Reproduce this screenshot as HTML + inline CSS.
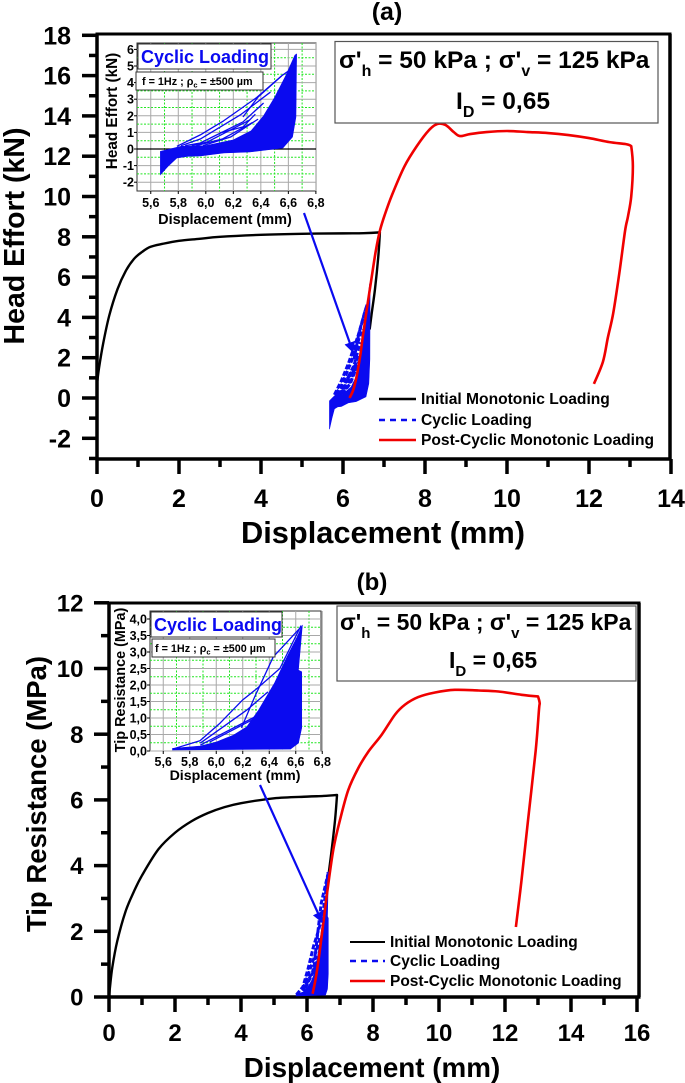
<!DOCTYPE html>
<html lang="en">
<head>
<meta charset="utf-8">
<title>Head effort and tip resistance vs displacement</title>
<style>
html,body{margin:0;padding:0;background:#fff;width:685px;height:1083px;overflow:hidden}
svg{display:block}
text{font-family:"Liberation Sans",sans-serif;font-weight:bold;fill:#000}
</style>
</head>
<body>
<svg id="figure" xmlns="http://www.w3.org/2000/svg" width="685" height="1083" viewBox="0 0 685 1083">
<rect width="685" height="1083" fill="#fff"/>
<defs>
<marker id="arrow-head" markerWidth="5" markerHeight="7" refX="4.5" refY="2.5" orient="auto"><path d="M0,0 L5,2.5 L0,5 Z" fill="#0a0af0"/></marker>
</defs>
<g id="panel-a"></g>
<g id="panel-b"></g>
<text x="387" y="20" font-size="25" text-anchor="middle">(a)</text>
<text x="372" y="590" font-size="24" text-anchor="middle">(b)</text>
<g>
<rect x="335" y="41.5" width="323" height="81.5" fill="#fff" stroke="#555" stroke-width="1.2"/>
<text x="339" y="68" font-size="24.5">σ'<tspan font-size="16" dy="8">h</tspan><tspan dy="-8"> = 50 kPa ; σ'</tspan><tspan font-size="16" dy="8">v</tspan><tspan dy="-8"> = 125 kPa</tspan></text>
<text x="456" y="109" font-size="24.5">I<tspan font-size="16" dy="8">D</tspan><tspan dy="-8"> = 0,65</tspan></text>
</g>
<g>
<rect x="337" y="606" width="299" height="75" fill="#fff" stroke="#555" stroke-width="1.2"/>
<text x="340" y="630" font-size="23">σ'<tspan font-size="15" dy="8">h</tspan><tspan dy="-8"> = 50 kPa ; σ'</tspan><tspan font-size="15" dy="8">v</tspan><tspan dy="-8"> = 125 kPa</tspan></text>
<text x="449" y="668" font-size="23">I<tspan font-size="15" dy="8">D</tspan><tspan dy="-8"> = 0,65</tspan></text>
</g>
</svg>
<script>
// ---------- Panel (a) data: displacement (mm) / head effort (kN) ----------
const aInitialX = [0,0.05,0.15,0.3,0.5,0.7,0.9,1.1,1.3,1.6,2,2.5,3,4,5,6,6.5,6.9,6.86,6.78,6.7,6.65];
const aInitialY = [0.7,1.5,2.7,4.1,5.4,6.3,6.9,7.25,7.5,7.65,7.8,7.9,8,8.1,8.15,8.17,8.18,8.22,7,5.4,4.2,3.4];
const aPostX = [6.16,6.25,6.33,6.42,6.48,6.58,6.7,6.8,6.9,7.02,7.2,7.5,7.8,8.1,8.3,8.5,8.7,8.85,9.1,9.5,10,10.5,11,11.5,12,12.5,12.9,13.03,13.07,13.03,12.95,12.88,12.74,12.59,12.46,12.34,12.12];
const aPostY = [0,0.4,1.05,2.1,3,4.4,6,7.3,8.3,9.1,10.1,11.5,12.5,13.3,13.6,13.55,13.2,13,13.1,13.2,13.25,13.2,13.15,13.05,12.9,12.7,12.6,12.5,11.5,10,9,8.3,6.2,4.2,3,1.8,0.7];
const aCyclicLowerX = [5.67,5.73,5.79,5.87,5.96,6.13,6.32,6.56,6.63,6.655,6.66];
const aCyclicLowerY = [-1.55,-1,-0.54,-0.44,-0.42,-0.24,-0.18,0.06,0.72,1.93,5.72];
const aCyclicUpperX = [6.648,6.58,6.5,6.42,6.33,6.2,6,5.82,5.74,5.67];
const aCyclicUpperY = [5.66,4.4,3.1,2,1.1,0.55,0.2,0.16,0,-0.14];
const aLoop1X = [5.79,5.96,6.13,6.37,6.55,6.6];
const aLoop1Y = [0.16,0.85,1.7,3.1,4.4,4.7];
const aLoop2X = [5.82,5.96,6.25,6.47];
const aLoop2Y = [0.2,0.6,2.05,3.43];
const aLoop3X = [5.85,5.96,6.27,6.42];
const aLoop3Y = [0.2,0.36,1.63,2.77];
const aLoop4X = [5.9,6.01,6.32];
const aLoop4Y = [0.2,0.42,1.75];
const aLoop5X = [6.27,6.38,6.55];
const aLoop5Y = [1.93,3.13,4.4];
const aLoop6X = [6.1,6.27,6.36];
const aLoop6Y = [0.96,1.33,2.1];
const aLoop7X = [5.93,6.12,6.34];
const aLoop7Y = [0.2,0.6,1.6];
const aLoop8X = [5.98,6.18,6.38];
const aLoop8Y = [0.2,0.72,1.8];
const aXTicks = [0,2,4,6,8,10,12,14];
const aXMinor = [1,3,5,7,9,11,13];
const aYTicks = [-2,0,2,4,6,8,10,12,14,16,18];
const aYMinor = [-3,-1,1,3,5,7,9,11,13,15,17];
const aInsetXTicks = ['5,6','5,8','6,0','6,2','6,4','6,6','6,8'];
const aInsetXVals = [5.6,5.8,6,6.2,6.4,6.6,6.8];
const aInsetXMinor = [5.7,5.9,6.1,6.3,6.5,6.7];
const aInsetYVals = [-2,-1,0,1,2,3,4,5,6];
const aInsetYMinor = [-1.5,-0.5,0.5,1.5,2.5,3.5,4.5,5.5];

// ---------- Panel (b) data: displacement (mm) / tip resistance (MPa) ----------
const bInitialX = [0,0.03,0.1,0.25,0.5,0.75,1,1.5,2,2.5,3,3.5,4,5,6,6.5,6.91,6.85,6.75,6.65,6.58];
const bInitialY = [0,0.3,0.9,1.7,2.6,3.2,3.7,4.5,5,5.35,5.6,5.78,5.9,6.05,6.1,6.12,6.15,5.39,4.5,3.7,3.2];
const bPostX = [6.17,6.27,6.38,6.5,6.62,6.8,7,7.25,7.55,7.86,8.26,8.67,8.97,9.37,9.88,10.48,11.2,11.8,12.5,13,13.05,13.03,12.93,12.7,12.5,12.33];
const bPostY = [0.1,0.6,1.35,2.3,3.25,4.5,5.39,6.3,6.96,7.47,7.98,8.6,8.9,9.13,9.27,9.35,9.33,9.3,9.2,9.15,8.95,8.75,7.5,5.4,3.55,2.13];
const bCyclicLowerX = [5.67,6.56,6.62,6.645,6.645,6.62,6.65];
const bCyclicLowerY = [0.03,0.06,0.24,0.7,2.4,2.45,3.82];
const bCyclicUpperX = [6.61,6.54,6.44,6.32,6.23,6.13,6,5.88,5.67];
const bCyclicUpperY = [3.45,2.9,2.06,1.24,0.73,0.48,0.27,0.15,0.08];
const bLoop1X = [5.68,5.877,6.03,6.2,6.31,6.48];
const bLoop1Y = [0.07,0.31,0.85,1.55,1.9,2.5];
const bLoop2X = [6.19,6.29,6.43,6.64];
const bLoop2Y = [0.7,1.64,2.85,3.76];
const bLoop3X = [6.48,6.64];
const bLoop3Y = [2.5,3.8];
const bLoop4X = [5.88,6.23,6.39];
const bLoop4Y = [0.24,1.24,1.79];
const bLoop5X = [5.88,6.29,6.33];
const bLoop5Y = [0.18,1.03,1.24];
const bLoop6X = [5.95,6.27];
const bLoop6Y = [0.27,0.94];
const bXTicks = [0,2,4,6,8,10,12,14,16];
const bXMinor = [1,3,5,7,9,11,13,15];
const bYTicks = [0,2,4,6,8,10,12];
const bYMinor = [1,3,5,7,9,11];
const bInsetXTicks = ['5,6','5,8','6,0','6,2','6,4','6,6','6,8'];
const bInsetXVals = [5.6,5.8,6,6.2,6.4,6.6,6.8];
const bInsetXMinor = [5.7,5.9,6.1,6.3,6.5,6.7];
const bInsetYVals = [0,0.5,1,1.5,2,2.5,3,3.5,4];
const bInsetYLabels = ['0,0','0,5','1,0','1,5','2,0','2,5','3,0','3,5','4,0'];
const bInsetYMinor = [0.25,0.75,1.25,1.75,2.25,2.75,3.25,3.75];

const aLoops = [[aLoop1X,aLoop1Y],[aLoop2X,aLoop2Y],[aLoop3X,aLoop3Y],[aLoop4X,aLoop4Y],[aLoop5X,aLoop5Y],[aLoop6X,aLoop6Y],[aLoop7X,aLoop7Y],[aLoop8X,aLoop8Y]];
const bLoops = [[bLoop1X,bLoop1Y],[bLoop2X,bLoop2Y],[bLoop3X,bLoop3Y],[bLoop4X,bLoop4Y],[bLoop5X,bLoop5Y],[bLoop6X,bLoop6Y]];

const NS = 'http://www.w3.org/2000/svg';
const BLUE = '#0a0af0';

// Axis functions
const ax = v => 97 + 41 * v;
const ay = v => 398 - 20.15 * v;
const bx = v => 109 + 33 * v;
const by = v => 997 - 32.85 * v;
const aix = v => 137 + (v - 5.5) * 137.6;
const aiy = v => 149 - 16.6 * v;
const bix = v => 150 + (v - 5.5) * 132.5;
const biy = v => 751 - 33 * v;

function seg(parent, name, x1, y1, x2, y2, color, w, dash) {
  const el = document.createElementNS(NS, 'line');
  
  
  el.setAttribute('x1', x1);
  el.setAttribute('y1', y1);
  el.setAttribute('x2', x2);
  el.setAttribute('y2', y2);
  el.setAttribute('stroke', color);
  el.setAttribute('stroke-width', w);
  if (dash) el.setAttribute('stroke-dasharray', dash);
  parent.appendChild(el);
  return el;
}
function label(parent, name, x, y, str, size, anchor, fill) {
  const el = document.createElementNS(NS, 'text');
  
  
  el.setAttribute('x', x);
  el.setAttribute('y', y);
  el.setAttribute('font-size', size);
  el.setAttribute('text-anchor', anchor || 'middle');
  if (fill) el.style.fill = fill;
  el.textContent = str;
  parent.appendChild(el);
  return el;
}
function curve(parent, name, xs, ys, fx, fy, color, w, dash) {
  const el = document.createElementNS(NS, 'polyline');
  
  
  el.setAttribute('points', xs.map((v, i) => fx(v).toFixed(2) + ',' + fy(ys[i]).toFixed(2)).join(' '));
  el.setAttribute('fill', 'none');
  el.setAttribute('stroke', color);
  el.setAttribute('stroke-width', w);
  el.setAttribute('stroke-linejoin', 'round');
  if (dash) el.setAttribute('stroke-dasharray', dash);
  parent.appendChild(el);
  return el;
}
function smooth(parent, name, xs, ys, fx, fy, color, w) {
  const p = xs.map((v, i) => [fx(v), fy(ys[i])]);
  // Tangents: flattened at sharp corners so the spline does not overshoot
  const tan = p.map((q, i) => {
    const a = p[Math.max(i - 1, 0)], c = p[Math.min(i + 1, p.length - 1)];
    const d1x = q[0] - a[0], d1y = q[1] - a[1], d2x = c[0] - q[0], d2y = c[1] - q[1];
    const l = Math.hypot(d1x, d1y) * Math.hypot(d2x, d2y);
    if (l > 0 && (d1x * d2x + d1y * d2y) / l < 0.5) return [0, 0];
    return [(c[0] - a[0]) / 6, (c[1] - a[1]) / 6];
  });
  let d = 'M' + p[0][0].toFixed(2) + ',' + p[0][1].toFixed(2);
  for (let i = 0; i < p.length - 1; i++) {
    const b = p[i], c = p[i + 1];
    d += ' C' + (b[0] + tan[i][0]).toFixed(2) + ',' + (b[1] + tan[i][1]).toFixed(2) + ' ' +
      (c[0] - tan[i + 1][0]).toFixed(2) + ',' + (c[1] - tan[i + 1][1]).toFixed(2) + ' ' +
      c[0].toFixed(2) + ',' + c[1].toFixed(2);
  }
  const el = document.createElementNS(NS, 'path');
  
  
  el.setAttribute('d', d);
  el.setAttribute('fill', 'none');
  el.setAttribute('stroke', color);
  el.setAttribute('stroke-width', w);
  el.setAttribute('stroke-linejoin', 'round');
  parent.appendChild(el);
  return el;
}
function envelope(parent, name, lx, ly, ux, uy, fx, fy) {
  const el = document.createElementNS(NS, 'polygon');
  
  
  const xs = lx.concat(ux);
  const ys = ly.concat(uy);
  el.setAttribute('points', xs.map((v, i) => fx(v).toFixed(2) + ',' + fy(ys[i]).toFixed(2)).join(' '));
  el.setAttribute('fill', BLUE);
  el.setAttribute('stroke', BLUE);
  el.setAttribute('stroke-width', '0.6');
  parent.appendChild(el);
  return el;
}
function rectBox(parent, name, x, y, w, h, stroke, sw) {
  const el = document.createElementNS(NS, 'rect');
  
  
  el.setAttribute('x', x);
  el.setAttribute('y', y);
  el.setAttribute('width', w);
  el.setAttribute('height', h);
  el.setAttribute('fill', '#fff');
  el.setAttribute('stroke', stroke);
  el.setAttribute('stroke-width', sw);
  parent.appendChild(el);
  return el;
}
function mainAxes(g, o) {
  seg(g, 'frame-top', o.l - 1.5, o.t, o.r + 1.5, o.t, '#000', 3);
  seg(g, 'frame-right', o.r, o.t, o.r, o.b, '#000', 3.5);
  seg(g, 'frame-left', o.l, o.t, o.l, o.b, '#000', 3.5);
  seg(g, 'frame-bottom', o.l - 1.5, o.b, o.r + 1.5, o.b, '#000', 3.5);
  o.xt.forEach(v => {
    seg(g, 'x-major-tick', o.fx(v), o.b, o.fx(v), o.b + 15, '#000', 3.5);
    label(g, 'x-tick-label', o.fx(v), o.b + o.xlOff, String(v), o.tickSize);
  });
  o.xm.forEach(v => seg(g, 'x-minor-tick', o.fx(v), o.b, o.fx(v), o.b + 8, '#000', 3.5));
  o.yt.forEach(v => {
    seg(g, 'y-major-tick', o.l - 15, o.fy(v), o.l, o.fy(v), '#000', 3.5);
    label(g, 'y-tick-label', o.l - o.ylOff, o.fy(v) + o.tickSize * 0.36, String(v), o.tickSize, 'end');
  });
  o.ym.forEach(v => seg(g, 'y-minor-tick', o.l - 8, o.fy(v), o.l, o.fy(v), '#000', 3.5));
}
function insetAxes(g, o) {
  rectBox(g, 'inset-plot-area', o.l, o.t, o.r - o.l, o.b - o.t, '#333', 1);
  o.xMinor.forEach(v => seg(g, 'inset-x-minor-grid', o.fx(v), o.t, o.fx(v), o.b, '#22e622', 1, '2 1.5'));
  o.yMinor.forEach(v => seg(g, 'inset-y-minor-grid', o.l, o.fy(v), o.r, o.fy(v), '#22e622', 1, '2 1.5'));
  o.xVals.forEach(v => seg(g, 'inset-x-major-grid', o.fx(v), o.t, o.fx(v), o.b, '#a8a8a8', 1));
  o.yVals.forEach(v => seg(g, 'inset-y-major-grid', o.l, o.fy(v), o.r, o.fy(v), '#a8a8a8', 1));
  o.xVals.forEach((v, i) => {
    seg(g, 'inset-x-tick', o.fx(v), o.b, o.fx(v), o.b + 3, '#000', 1);
    label(g, 'inset-x-tick-label', o.fx(v), o.b + o.xlOff, o.xLabels[i], 12.5);
  });
  o.yVals.forEach((v, i) => {
    seg(g, 'inset-y-tick', o.l - 3, o.fy(v), o.l, o.fy(v), '#000', 1);
    label(g, 'inset-y-tick-label', o.l - 3, o.fy(v) + 4.5, o.yLabels[i], 12.5, 'end');
  });
}

// ============ Panel (a) ============
const pa = document.getElementById('panel-a');
mainAxes(pa, {l:97, r:670, t:34, b:459, fx:ax, fy:ay, xt:aXTicks, xm:aXMinor, yt:aYTicks, ym:aYMinor, xlOff:48, ylOff:26, tickSize:25});
label(pa, 'x-axis-title', 383, 543, 'Displacement (mm)', 30.8);
const aTitle = label(pa, 'y-axis-title', 0, 0, 'Head Effort (kN)', 28.5);
aTitle.setAttribute('transform', 'translate(24,236) rotate(-90)');
smooth(pa, 'initial-monotonic-curve', aInitialX, aInitialY, ax, ay, '#000', 2.4);
envelope(pa, 'cyclic-envelope', aCyclicLowerX, aCyclicLowerY, aCyclicUpperX, aCyclicUpperY, ax, ay);
aLoops.forEach(p => {
  curve(pa, 'cyclic-loop', p[0], p[1], ax, ay, BLUE, 3, '5 2');
});
smooth(pa, 'post-cyclic-monotonic-curve', aPostX, aPostY, ax, ay, '#f00000', 2.6);

// Legend (a)
seg(pa, 'legend-initial-line', 379, 399, 416, 399, '#000', 2.6);
label(pa, 'legend-initial-label', 421, 404, 'Initial Monotonic Loading', 15.6, 'start');
seg(pa, 'legend-cyclic-line', 379, 420, 416, 420, BLUE, 2.4, '6 5');
label(pa, 'legend-cyclic-label', 421, 425, 'Cyclic Loading', 15.6, 'start');
seg(pa, 'legend-post-line', 379, 440, 416, 440, '#f00000', 2.4);
label(pa, 'legend-post-label', 421, 445, 'Post-Cyclic Monotonic Loading', 15.6, 'start');

// Inset (a)
const ia = document.createElementNS(NS, 'g');


pa.appendChild(ia);
insetAxes(ia, {l:137, r:316, t:43, b:191, fx:aix, fy:aiy, xVals:aInsetXVals, yVals:aInsetYVals, xMinor:aInsetXMinor, yMinor:aInsetYMinor,
  xLabels:aInsetXTicks, yLabels:aInsetYVals.map(String), xlOff:16});
seg(ia, 'inset-zero-line', 137, aiy(0), 316, aiy(0), '#000', 1.2);
envelope(ia, 'inset-cyclic-envelope', aCyclicLowerX, aCyclicLowerY, aCyclicUpperX, aCyclicUpperY, aix, aiy);
aLoops.forEach(p => {
  curve(ia, 'inset-cyclic-loop', p[0], p[1], aix, aiy, BLUE, 1.3);
});
rectBox(ia, 'inset-title-box', 138, 44, 133, 25, '#333', 1);
label(ia, 'inset-title', 141, 63, 'Cyclic Loading', 18, 'start', BLUE);
rectBox(ia, 'inset-frequency-box', 136, 72, 127, 18, '#333', 1);
const fa = label(ia, 'inset-frequency-label', 142, 85, 'f = 1Hz ; ρ', 10.8, 'start');
fa.innerHTML = 'f = 1Hz ; ρ<tspan font-size="7.5" dy="2.5">c</tspan><tspan dy="-2.5"> = ±500 µm</tspan>';
label(ia, 'inset-x-axis-title', 225, 224, 'Displacement (mm)', 14.5);
const aiTitle = label(ia, 'inset-y-axis-title', 0, 0, 'Head Effort (kN)', 15.3);
aiTitle.setAttribute('transform', 'translate(117,111) rotate(-90)');
const arrA = seg(pa, 'callout-arrow', 304, 213, 353, 352, BLUE, 2.2);
arrA.setAttribute('marker-end', 'url(#arrow-head)');

// ============ Panel (b) ============
const pb = document.getElementById('panel-b');
mainAxes(pb, {l:109, r:639, t:603, b:997, fx:bx, fy:by, xt:bXTicks, xm:bXMinor, yt:bYTicks, ym:bYMinor, xlOff:44, ylOff:25.5, tickSize:24});
label(pb, 'x-axis-title', 372, 1077, 'Displacement (mm)', 27.8);
const bTitle = label(pb, 'y-axis-title', 0, 0, 'Tip Resistance (MPa)', 27.5);
bTitle.setAttribute('transform', 'translate(46,794) rotate(-90)');
smooth(pb, 'initial-monotonic-curve', bInitialX, bInitialY, bx, by, '#000', 2.4);
envelope(pb, 'cyclic-envelope', bCyclicLowerX, bCyclicLowerY, bCyclicUpperX, bCyclicUpperY, bx, by);
bLoops.forEach(p => {
  curve(pb, 'cyclic-loop', p[0], p[1], bx, by, BLUE, 3, '5 2');
});
smooth(pb, 'post-cyclic-monotonic-curve', bPostX, bPostY, bx, by, '#f00000', 2.6);

// Legend (b)
seg(pb, 'legend-initial-line', 350, 942, 385, 942, '#000', 2);
label(pb, 'legend-initial-label', 390, 947, 'Initial Monotonic Loading', 15.5, 'start');
seg(pb, 'legend-cyclic-line', 350, 961, 385, 961, BLUE, 2.4, '6 5');
label(pb, 'legend-cyclic-label', 390, 966, 'Cyclic Loading', 15.5, 'start');
seg(pb, 'legend-post-line', 350, 981, 385, 981, '#f00000', 2.4);
label(pb, 'legend-post-label', 390, 986, 'Post-Cyclic Monotonic Loading', 15.5, 'start');

// Inset (b)
const ib = document.createElementNS(NS, 'g');


pb.appendChild(ib);
insetAxes(ib, {l:150, r:321, t:611, b:751, fx:bix, fy:biy, xVals:bInsetXVals, yVals:bInsetYVals, xMinor:bInsetXMinor, yMinor:bInsetYMinor,
  xLabels:bInsetXTicks, yLabels:bInsetYLabels, xlOff:15});
envelope(ib, 'inset-cyclic-envelope', bCyclicLowerX, bCyclicLowerY, bCyclicUpperX, bCyclicUpperY, bix, biy);
bLoops.forEach(p => {
  curve(ib, 'inset-cyclic-loop', p[0], p[1], bix, biy, BLUE, 1.3);
});
rectBox(ib, 'inset-title-box', 151, 612, 131, 25, '#333', 1);
label(ib, 'inset-title', 154, 631, 'Cyclic Loading', 18, 'start', BLUE);
rectBox(ib, 'inset-frequency-box', 152, 639, 123, 18, '#333', 1);
const fb = label(ib, 'inset-frequency-label', 155, 652, 'f = 1Hz ; ρ', 10.8, 'start');
fb.innerHTML = 'f = 1Hz ; ρ<tspan font-size="7.5" dy="2.5">c</tspan><tspan dy="-2.5"> = ±500 µm</tspan>';
label(ib, 'inset-x-axis-title', 235, 780, 'Displacement (mm)', 14.2);
const biTitle = label(ib, 'inset-y-axis-title', 0, 0, 'Tip Resistance (MPa)', 14.4);
biTitle.setAttribute('transform', 'translate(125,680) rotate(-90)');
const arrB = seg(pb, 'callout-arrow', 260, 785, 322, 922, BLUE, 2.2);
arrB.setAttribute('marker-end', 'url(#arrow-head)');
</script>
</body>
</html>
